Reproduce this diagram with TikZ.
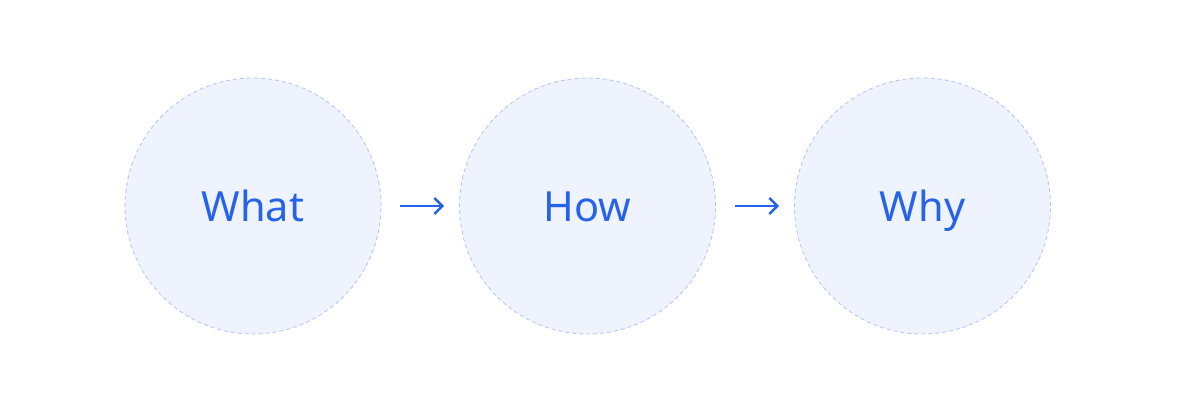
\documentclass[tikz,border=0pt]{standalone}
\usepackage{fontspec}
\setmainfont{Noto Sans}
\usetikzlibrary{arrows.meta}
\definecolor{circfill}{HTML}{EEF3FE}
\definecolor{circline}{HTML}{B8C2F4}
\definecolor{accent}{HTML}{2563EB}
\tikzset{
  stage/.style={circle, minimum size=256pt, inner sep=0pt, text height=32pt, text depth=0pt, fill=circfill, draw=circline, line width=0.8pt, dash pattern=on 4pt off 3pt, text=accent, font=\fontsize{41.5}{48}\selectfont},
  flow/.style={draw=accent, line width=2.4pt, -{Straight Barb[length=8pt, width=16pt, line width=2.4pt]}, shorten <=19pt, shorten >=15pt}
}
\begin{document}
\begin{tikzpicture}[x=1pt, y=-1pt]
\useasboundingbox (0,0) rectangle (1200,417);
\fill[white] (0,0) rectangle (1200,417);
\node[stage] (what) at (253,206) {What};
\node[stage] (how) at (587.5,206) {How};
\node[stage] (why) at (922.5,206) {Why};
\draw[flow] (what) -- (how);
\draw[flow] (how) -- (why);
\end{tikzpicture}
\end{document}
